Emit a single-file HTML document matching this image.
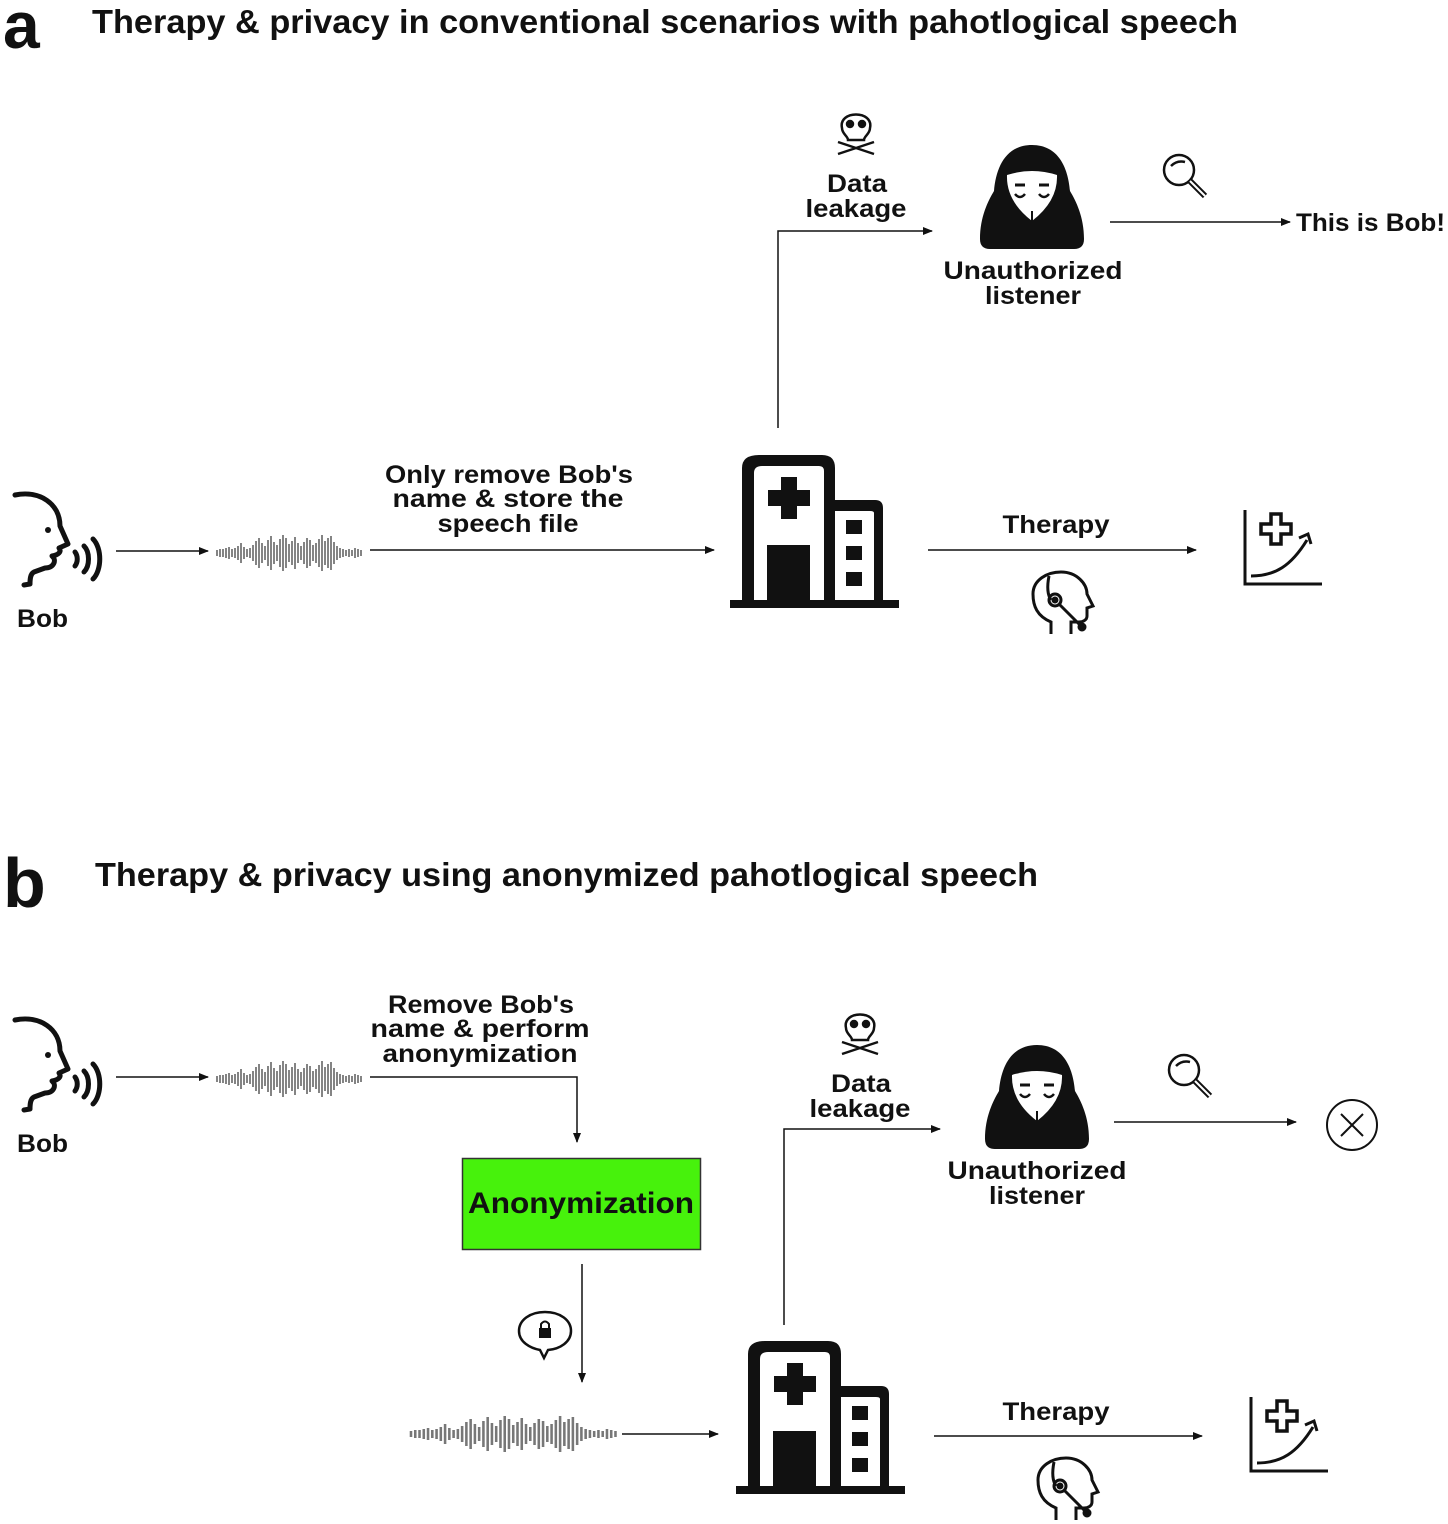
<!DOCTYPE html>
<html><head><meta charset="utf-8"><style>
html,body{margin:0;padding:0;background:#fff;}
svg{display:block;}
text{font-family:"Liberation Sans",sans-serif;fill:#111;}
.l{font-size:25px;font-weight:bold;}
</style></head><body>
<svg width="1448" height="1524" viewBox="0 0 1448 1524" xmlns="http://www.w3.org/2000/svg">
<defs>
<marker id="ah" markerWidth="10" markerHeight="8" refX="9" refY="4" orient="auto" markerUnits="userSpaceOnUse"><path d="M0,0 L10,4 L0,8 Z" fill="#111"/></marker>
<g id="face" fill="none" stroke="#111" stroke-width="5" stroke-linecap="round" stroke-linejoin="round">
<path d="M3 3 C28 -2 48 12 48 34 L56 52 L47 56 C50 60 46 63 40 64 C45 68 42 76 33 76 L22 80 C18 82 18 88 18 92 L12 93"/>
<circle cx="36" cy="38" r="3" fill="#111" stroke="none"/>
<path d="M63 60 C66 64 66 70 63 74"/>
<path d="M72 54 C78 60 78 74 72 80"/>
<path d="M81 47 C90 56 90 78 81 87"/>
</g>
<g id="wave" stroke="#777" stroke-width="1.8">
<path d="M0 -3V3M3 -4V4M6 -4V4M9 -5V5M12 -6V6M15 -4V4M18 -5V5M21 -7V7M24 -10V10M27 -6V6M30 -4V4M33 -5V5M36 -8V8M39 -12V12M42 -15V15M45 -10V10M48 -7V7M51 -13V13M54 -17V17M57 -11V11M60 -8V8M63 -14V14M66 -18V18M69 -15V15M72 -9V9M75 -12V12M78 -16V16M81 -10V10M84 -7V7M87 -11V11M90 -15V15M93 -13V13M96 -8V8M99 -10V10M102 -14V14M105 -18V18M108 -12V12M111 -15V15M114 -17V17M117 -11V11M120 -7V7M123 -5V5M126 -4V4M129 -3V3M132 -4V4M135 -3V3M138 -5V5M141 -4V4M144 -3V3"/>
</g>
<g id="hosp">
<path d="M17 0 H80 Q93 0 93 13 V145 H82 V16 Q82 11 77 11 H20 Q12 11 12 18 V145 H0 V13 Q0 0 17 0Z" fill="#111"/>
<path d="M93 45 H133 Q141 45 141 53 V145 H132 V58 Q132 56 128 56 H93Z" fill="#111"/>
<rect x="-12" y="145" width="169" height="8" fill="#111"/>
<rect x="39" y="22" width="16" height="42" fill="#111"/><rect x="26" y="35" width="42" height="16" fill="#111"/>
<rect x="25" y="90" width="43" height="56" fill="#111"/>
<rect x="104" y="65" width="16" height="14" fill="#111"/><rect x="104" y="91" width="16" height="14" fill="#111"/><rect x="104" y="117" width="16" height="14" fill="#111"/>
</g>
<g id="skull" fill="none" stroke="#111" stroke-width="2.5">
<path d="M-14 2 C-18 -16 18 -16 14 2 C14 8 8 10 8 14 H-8 C-8 10 -14 8 -14 2Z"/>
<circle cx="-6" cy="-2" r="3" fill="#111"/><circle cx="6" cy="-2" r="3" fill="#111"/>
<path d="M-18 16 L18 28 M18 16 L-18 28"/>
</g>
<g id="hacker">
<path d="M0 0 C-26 0 -36 22 -38 46 C-44 56 -52 72 -52 94 Q-52 104 -42 104 H42 Q52 104 52 94 C52 72 44 56 38 46 C36 22 26 0 0 0Z" fill="#111"/>
<path d="M-25 30 Q0 22 25 30 Q26 56 0 76 Q-26 56 -25 30Z" fill="#fff"/>
<path d="M-17 40 H-7 M7 40 H17" stroke="#111" stroke-width="3"/>
<path d="M-17 49 Q-12 55 -7 49 M7 49 Q12 55 17 49" stroke="#111" stroke-width="2.5" fill="none"/>
<path d="M0 66 V76" stroke="#111" stroke-width="2"/>
</g>
<g id="mag" fill="none" stroke="#111" stroke-width="2.5">
<circle cx="-6" cy="-6" r="15"/><path d="M-14 -10 Q-8 -16 0 -14"/>
<path d="M5 5 L20 20" stroke-width="6"/><path d="M5 5 L20 20" stroke="#fff" stroke-width="2"/>
</g>
<g id="head" fill="none" stroke="#111" stroke-width="3">
<path d="M6 58 V46 C-8 40 -12 30 -12 18 C-12 4 2 -4 16 -4 C32 -4 42 8 42 18 L48 30 L42 32 V40 C42 44 38 46 34 46 H26 V58"/>
<path d="M4 0 C2 10 2 18 6 24"/>
<circle cx="10" cy="24" r="6"/><circle cx="10" cy="24" r="2" fill="#111"/>
<path d="M15 29 L36 50"/><circle cx="37" cy="51" r="3" fill="#111"/>
</g>
<g id="chart" fill="none" stroke="#111" stroke-width="3">
<path d="M0 0 V74 H77"/>
<path d="M6 66 C30 66 46 56 62 30"/>
<path d="M54 28 L63 24 L66 34"/>
<path d="M26 4 h10 v10 h10 v10 h-10 v10 h-10 v-10 h-10 v-10 h10z" stroke-width="3.5"/>
</g>
</defs>

<g stroke="#111" stroke-width="1.5" fill="none">
<line x1="116" y1="551" x2="208" y2="551" marker-end="url(#ah)"/>
<line x1="370" y1="550" x2="714" y2="550" marker-end="url(#ah)"/>
<polyline points="778,428 778,231 932,231" marker-end="url(#ah)"/>
<line x1="1110" y1="222" x2="1290" y2="222" marker-end="url(#ah)"/>
<line x1="928" y1="550" x2="1196" y2="550" marker-end="url(#ah)"/>
<line x1="116" y1="1077" x2="208" y2="1077" marker-end="url(#ah)"/>
<polyline points="370,1077 577,1077 577,1142" marker-end="url(#ah)"/>
<line x1="582" y1="1264" x2="582" y2="1382" marker-end="url(#ah)"/>
<line x1="622" y1="1434" x2="718" y2="1434" marker-end="url(#ah)"/>
<polyline points="784,1325 784,1129 940,1129" marker-end="url(#ah)"/>
<line x1="1114" y1="1122" x2="1296" y2="1122" marker-end="url(#ah)"/>
<line x1="934" y1="1436" x2="1202" y2="1436" marker-end="url(#ah)"/>
</g>

<text x="3" y="48" font-size="66" font-weight="bold">a</text>
<text x="92" y="33" font-size="33" font-weight="bold" textLength="1146" lengthAdjust="spacingAndGlyphs">Therapy &amp; privacy in conventional scenarios with pahotlogical speech</text>
<use href="#face" x="12" y="492"/>
<text class="l" x="17" y="627" textLength="51" lengthAdjust="spacingAndGlyphs">Bob</text>
<use href="#wave" x="217" y="553"/>
<g class="l" text-anchor="middle"><text x="509" y="483" textLength="248" lengthAdjust="spacingAndGlyphs">Only remove Bob's</text><text x="508" y="507" textLength="231" lengthAdjust="spacingAndGlyphs">name &amp; store the</text><text x="508" y="532" textLength="141" lengthAdjust="spacingAndGlyphs">speech file</text></g>
<use href="#hosp" x="742" y="455"/>
<use href="#skull" x="856" y="126"/>
<g class="l" text-anchor="middle"><text x="857" y="192" textLength="60" lengthAdjust="spacingAndGlyphs">Data</text><text x="856" y="217" textLength="101" lengthAdjust="spacingAndGlyphs">leakage</text>
<text x="1033" y="279" textLength="179" lengthAdjust="spacingAndGlyphs">Unauthorized</text><text x="1033" y="304" textLength="96" lengthAdjust="spacingAndGlyphs">listener</text>
<text x="1056" y="533" textLength="107" lengthAdjust="spacingAndGlyphs">Therapy</text></g>
<use href="#hacker" x="1032" y="145"/>
<use href="#mag" x="1185" y="176"/>
<text class="l" x="1296" y="231" textLength="149" lengthAdjust="spacingAndGlyphs">This is Bob!</text>
<use href="#head" x="1045" y="576"/>
<use href="#chart" x="1245" y="510"/>

<text x="3" y="907" font-size="70" font-weight="bold">b</text>
<text x="95" y="886" font-size="33" font-weight="bold" textLength="943" lengthAdjust="spacingAndGlyphs">Therapy &amp; privacy using anonymized pahotlogical speech</text>
<use href="#face" x="12" y="1017"/>
<text class="l" x="17" y="1152" textLength="51" lengthAdjust="spacingAndGlyphs">Bob</text>
<use href="#wave" x="217" y="1079"/>
<g class="l" text-anchor="middle"><text x="481" y="1013" textLength="186" lengthAdjust="spacingAndGlyphs">Remove Bob's</text><text x="480" y="1037" textLength="219" lengthAdjust="spacingAndGlyphs">name &amp; perform</text><text x="480" y="1062" textLength="195" lengthAdjust="spacingAndGlyphs">anonymization</text></g>
<rect x="462.5" y="1158.5" width="238" height="91" fill="#47f20c" stroke="#333" stroke-width="1.5"/>
<text x="581" y="1213" font-size="30" font-weight="bold" text-anchor="middle" textLength="226" lengthAdjust="spacingAndGlyphs">Anonymization</text>
<path d="M545 1312 C530 1312 519 1320 519 1331 C519 1342 530 1348 540 1350 L544 1358 L548 1350 C560 1349 571 1342 571 1331 C571 1320 560 1312 545 1312Z" fill="none" stroke="#111" stroke-width="2.5"/>
<rect x="539" y="1328" width="12" height="10" fill="#111"/><path d="M541 1328 V1324 Q545 1319 549 1324 V1328" fill="none" stroke="#111" stroke-width="2"/>
<g transform="translate(411 1434) scale(1.42 1)"><use href="#wave"/></g>
<use href="#hosp" x="748" y="1341"/>
<use href="#skull" x="860" y="1026"/>
<g class="l" text-anchor="middle"><text x="861" y="1092" textLength="60" lengthAdjust="spacingAndGlyphs">Data</text><text x="860" y="1117" textLength="101" lengthAdjust="spacingAndGlyphs">leakage</text>
<text x="1037" y="1179" textLength="179" lengthAdjust="spacingAndGlyphs">Unauthorized</text><text x="1037" y="1204" textLength="96" lengthAdjust="spacingAndGlyphs">listener</text>
<text x="1056" y="1420" textLength="107" lengthAdjust="spacingAndGlyphs">Therapy</text></g>
<use href="#hacker" x="1037" y="1045"/>
<use href="#mag" x="1190" y="1076"/>
<circle cx="1352" cy="1125" r="25" fill="none" stroke="#111" stroke-width="2"/>
<path d="M1341 1114 L1363 1136 M1363 1114 L1341 1136" stroke="#111" stroke-width="2"/>
<use href="#head" x="1050" y="1462"/>
<use href="#chart" x="1251" y="1397"/>
</svg>
</body></html>
